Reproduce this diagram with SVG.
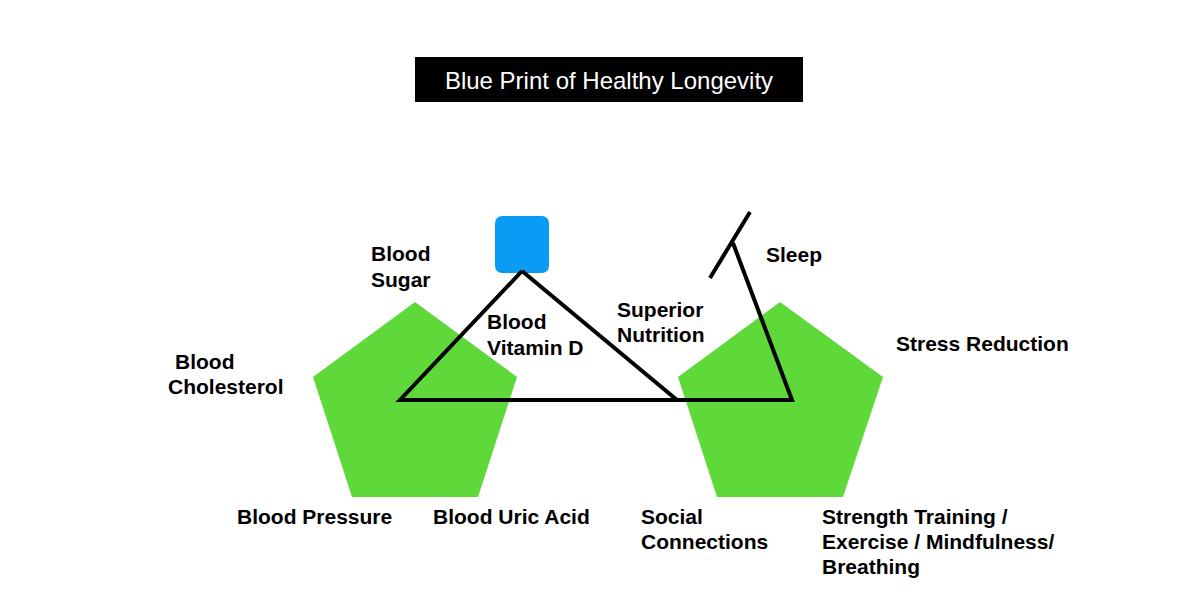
<svg xmlns="http://www.w3.org/2000/svg" width="1200" height="600" viewBox="0 0 1200 600">
<style>
.l{font-family:"Liberation Sans",Arial,sans-serif;font-weight:bold;font-size:21px;fill:#000}
.p{fill:#5fd93a}
.ln{stroke:#000;stroke-width:4;fill:none;stroke-linejoin:miter}
</style>
<rect width="1200" height="600" fill="#fff"/>
<g id="title"><rect x="415" y="57" width="388" height="45" fill="#000"/>
<text x="609" y="89" text-anchor="middle" style="font-family:'Liberation Sans',Arial,sans-serif;font-size:24px;fill:#fff">Blue Print of Healthy Longevity</text></g>
<g id="wheel-left"><polygon class="p" points="415,302 517,377 478,497 352,497 313,377"/></g>
<g id="wheel-right"><polygon class="p" points="780,302 883,377 843,497 717,497 678,377"/></g>
<g id="seat"><rect x="495" y="216" width="54" height="57" rx="7" fill="#0a9cf5"/></g>
<g id="connectors">
<polyline class="ln" points="522,271 400,400 792,400 733,243"/>
<line class="ln" x1="522" y1="271" x2="677" y2="400"/>
<line class="ln" x1="710" y1="278" x2="750" y2="212"/>
</g>
<g id="labels">
<text class="l" x="371" y="261">Blood</text><text class="l" x="371" y="287">Sugar</text>
<text class="l" x="487" y="329">Blood</text><text class="l" x="487" y="355">Vitamin D</text>
<text class="l" x="617" y="317">Superior</text><text class="l" x="617" y="342">Nutrition</text>
<text class="l" x="766" y="262">Sleep</text>
<text class="l" x="896" y="351">Stress Reduction</text>
<text class="l" x="175" y="369">Blood</text><text class="l" x="168" y="394">Cholesterol</text>
<text class="l" x="237" y="524">Blood Pressure</text>
<text class="l" x="433" y="524">Blood Uric Acid</text>
<text class="l" x="641" y="524">Social</text><text class="l" x="641" y="549">Connections</text>
<text class="l" x="822" y="524">Strength Training /</text>
<text class="l" x="822" y="549">Exercise / Mindfulness/</text>
<text class="l" x="822" y="574">Breathing</text>
</g>
</svg>
